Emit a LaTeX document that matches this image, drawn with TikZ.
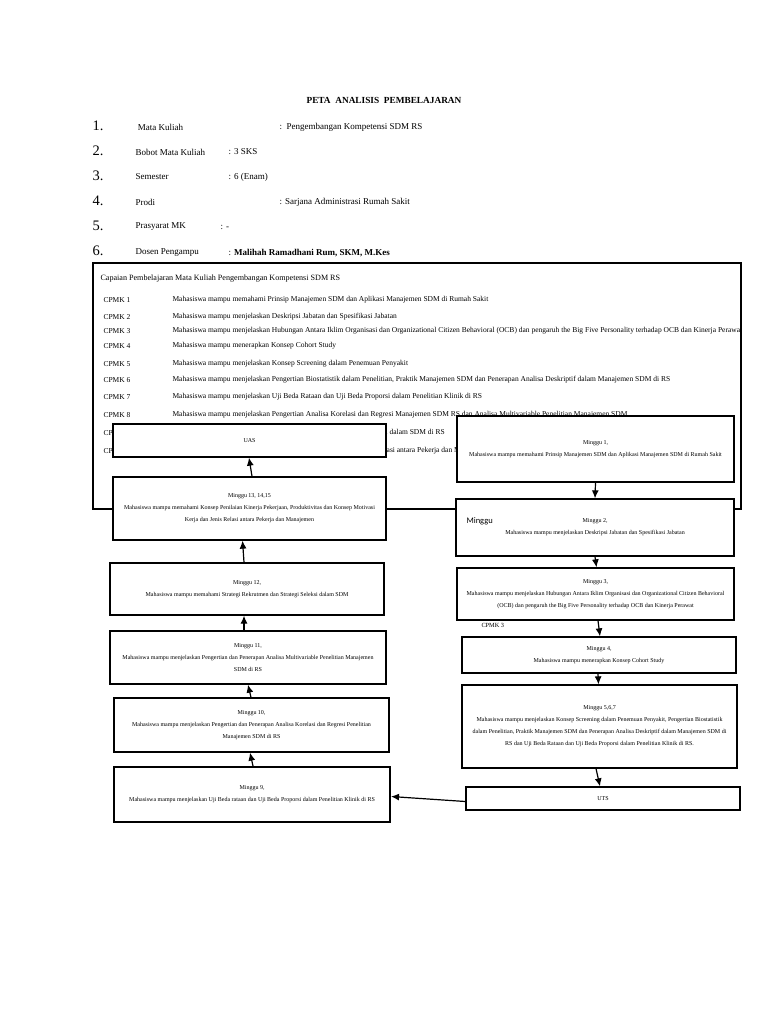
\documentclass[tikz,border=0pt]{standalone}
\usepackage{fontspec}
\setmainfont{Liberation Serif}
\newfontfamily\stickyfont{Carlito}
\usetikzlibrary{arrows.meta}

\tikzset{
    weekbox/.style={draw, line width=1.3pt, fill=white, inner sep=1pt, align=center,
        font=\fontsize{6}{12}\selectfont},
    flowarrow/.style={line width=1.2pt, -{Latex[length=8pt,width=7pt]}},
    hdrnum/.style={anchor=west, font=\fontsize{14.5}{17}\selectfont},
    hdrtext/.style={anchor=west, font=\fontsize{9}{11}\selectfont},
    cpmktext/.style={anchor=west, font=\fontsize{7.5}{9}\selectfont}
}

\begin{document}
\begin{tikzpicture}[x=1pt, y=-1pt]
    \useasboundingbox[fill=white] (0,0) rectangle (768,1024);

    % Title
    \node[font=\bfseries\fontsize{9.3}{11}\selectfont] (title) at (384, 100) {PETA\ \ ANALISIS\ \ PEMBELAJARAN};

    % Course identity rows
    \foreach \n/\y/\lab/\vx/\val in {1/126/{\ Mata Kuliah}/276/{:\ \ Pengembangan Kompetensi SDM RS},
                                     2/151/{Bobot Mata Kuliah}/225/{: 3 SKS},
                                     3/176/{Semester}/225/{: 6 (Enam)},
                                     4/201/{Prodi}/276/{: Sarjana Administrasi Rumah Sakit},
                                     5/226/{Prasyarat MK}/217/{: -}} {
        \node[hdrnum] (num\n) at (89, \y) {\n.};
        \node[hdrtext] (lab\n) at (132, \y+1) {\lab};
        \node[hdrtext] (val\n) at (\vx, \y+1) {\val};
    }
    \node[hdrnum] (num6) at (89, 251) {6.};
    \node[hdrtext] (lab6) at (132, 253) {Dosen Pengampu};
    \node[hdrtext] (val6) at (225, 253) {: \textbf{Malihah Ramadhani Rum, SKM, M.Kes}};

    % CPMK frame
    \draw[line width=1.8pt] (93, 263) rectangle (741, 509);
    \begin{scope}
        \clip (93, 263) rectangle (740, 509);
        \node[cpmktext, font=\fontsize{8.1}{9}\selectfont] (cpmktitle) at (97, 279) {Capaian Pembelajaran Mata Kuliah Pengembangan Kompetensi SDM RS};
        \foreach \k/\y/\txt in {1/300/{Mahasiswa mampu memahami Prinsip Manajemen SDM dan Aplikasi Manajemen SDM di Rumah Sakit},
                                2/317/{Mahasiswa mampu menjelaskan Deskripsi Jabatan dan Spesifikasi Jabatan},
                                3/331/{Mahasiswa mampu menjelaskan Hubungan Antara Iklim Organisasi dan Organizational Citizen Behavioral (OCB) dan pengaruh the Big Five Personality terhadap OCB dan Kinerja Perawat},
                                4/346/{Mahasiswa mampu menerapkan Konsep Cohort Study},
                                5/364/{Mahasiswa mampu menjelaskan Konsep Screening dalam Penemuan Penyakit},
                                6/380/{Mahasiswa mampu menjelaskan Pengertian Biostatistik dalam Penelitian, Praktik Manajemen SDM dan Penerapan Analisa Deskriptif dalam Manajemen SDM di RS},
                                7/397/{Mahasiswa mampu menjelaskan Uji Beda Rataan dan Uji Beda Proporsi dalam Penelitian Klinik di RS},
                                8/415/{Mahasiswa mampu menjelaskan Pengertian Analisa Korelasi dan Regresi Manajemen SDM RS dan Analisa Multivariable Penelitian Manajemen SDM},
                                9/433/{Mahasiswa mampu memahami Strategi Rekrutmen dan Strategi Seleksi dalam SDM di RS},
                                10/451/{Mahasiswa mampu memahami Konsep Penilaian Kinerja dan Jenis Relasi antara Pekerja dan Manajemen}} {
            \node[cpmktext] (cpmk\k) at (100, \y) {CPMK \k};
            \node[cpmktext] (cpmkdesc\k) at (169, \y) {\txt};
        }
    \end{scope}

    % Left column: weeks 9 to 15 going up
    \node[weekbox, minimum width=273pt, minimum height=33pt] (uas) at (249.5, 440.5) {UAS};
    \node[weekbox, minimum width=273pt, minimum height=63pt] (m13) at (249.5, 508.5)
        {Minggu 13, 14,15\\Mahasiswa mampu memahami Konsep Penilaian Kinerja Pekerjaan, Produktivitas dan Konsep Motivasi\\Kerja dan Jenis Relasi antara Pekerja dan Manajemen};
    \node[weekbox, minimum width=274pt, minimum height=52pt] (m12) at (247, 589)
        {Minggu 12,\\Mahasiswa mampu memahami Strategi Rekrutmen dan Strategi Seleksi dalam SDM};
    \node[weekbox, minimum width=276pt, minimum height=53pt] (m11) at (248, 657.5)
        {Minggu 11,\\Mahasiswa mampu menjelaskan Pengertian dan Penerapan Analisa Multivariable Penelitian Manajemen\\SDM di RS};
    \node[weekbox, minimum width=275pt, minimum height=54pt] (m10) at (251.5, 725)
        {Minggu 10,\\Mahasiswa mampu menjelaskan Pengertian dan Penerapan Analisa Korelasi dan Regresi Penelitian\\Manajemen SDM di RS};
    \node[weekbox, line width=2pt, minimum width=276pt, minimum height=55pt] (m9) at (252, 794.5)
        {Minggu 9,\\Mahasiswa mampu menjelaskan Uji Beda rataan dan Uji Beda Proporsi dalam Penelitian Klinik di RS};

    % Right column: weeks 1 to 7 going down
    \node[weekbox, minimum width=277pt, minimum height=66pt] (m1) at (595.5, 449)
        {Minggu 1,\\Mahasiswa mampu memahami Prinsip Manajemen SDM dan Aplikasi Manajemen SDM di Rumah Sakit};
    \node[weekbox, minimum width=278pt, minimum height=57pt] (m2) at (595, 527.5)
        {Minggu 2,\\Mahasiswa mampu menjelaskan Deskripsi Jabatan dan Spesifikasi Jabatan};
    \node[weekbox, minimum width=277pt, minimum height=52pt] (m3) at (595.5, 594)
        {Minggu 3,\\Mahasiswa mampu menjelaskan Hubungan Antara Iklim Organisasi dan Organizational Citizen Behavioral\\(OCB) dan pengaruh the Big Five Personality terhadap OCB dan Kinerja Perawat};
    \node[weekbox, minimum width=274pt, minimum height=36pt] (m4) at (599, 655)
        {Minggu 4,\\Mahasiswa mampu menerapkan Konsep Cohort Study};
    \node[weekbox, minimum width=275pt, minimum height=83pt] (m567) at (599.5, 726.5)
        {Minggu 5,6,7\\Mahasiswa mampu menjelaskan Konsep Screening dalam Penemuan Penyakit, Pengertian Biostatistik\\dalam Penelitian, Praktik Manajemen SDM dan Penerapan Analisa Deskriptif dalam Manajemen SDM di\\RS dan Uji Beda Rataan dan Uji Beda Proporsi dalam Penelitian Klinik di RS.};
    \node[weekbox, minimum width=274pt, minimum height=23pt] (uts) at (603, 798.5) {UTS};

    % Loose labels
    \node[anchor=west, font=\stickyfont\fontsize{8.5}{10}\selectfont] (stray) at (463, 521) {Minggu};
    \node[anchor=west, font=\fontsize{6.3}{7}\selectfont] (cpmkthree) at (478, 625) {CPMK 3};

    % Arrows down the right column
    \draw[flowarrow] (m1.south) -- (m2.north);
    \draw[flowarrow] (m2.south) -- ([xshift=1pt]m3.north);
    \draw[flowarrow] ([xshift=2.5pt]m3.south) -- ([xshift=1pt]m4.north);
    \draw[flowarrow] ([xshift=-1pt]m4.south) -- ([xshift=-1pt]m567.north);
    \draw[flowarrow] ([xshift=-3.5pt]m567.south) -- ([xshift=-3pt]uts.north);

    % From UTS across to week 9
    \draw[flowarrow] ([yshift=-3pt]uts.west) -- ([yshift=-2pt]m9.east);

    % Arrows up the left column
    \draw[flowarrow] ([xshift=1pt]m9.north) -- ([xshift=-1.5pt]m10.south);
    \draw[flowarrow] ([xshift=-0.5pt]m10.north) -- (m11.south);
    \draw[flowarrow] ([xshift=-4pt]m11.north) -- ([xshift=-3pt]m12.south);
    \draw[flowarrow] ([xshift=-3pt]m12.north) -- ([xshift=-7pt]m13.south);
    \draw[flowarrow] ([xshift=2.5pt]m13.north) -- ([xshift=-0.5pt]uas.south);
\end{tikzpicture}
\end{document}
